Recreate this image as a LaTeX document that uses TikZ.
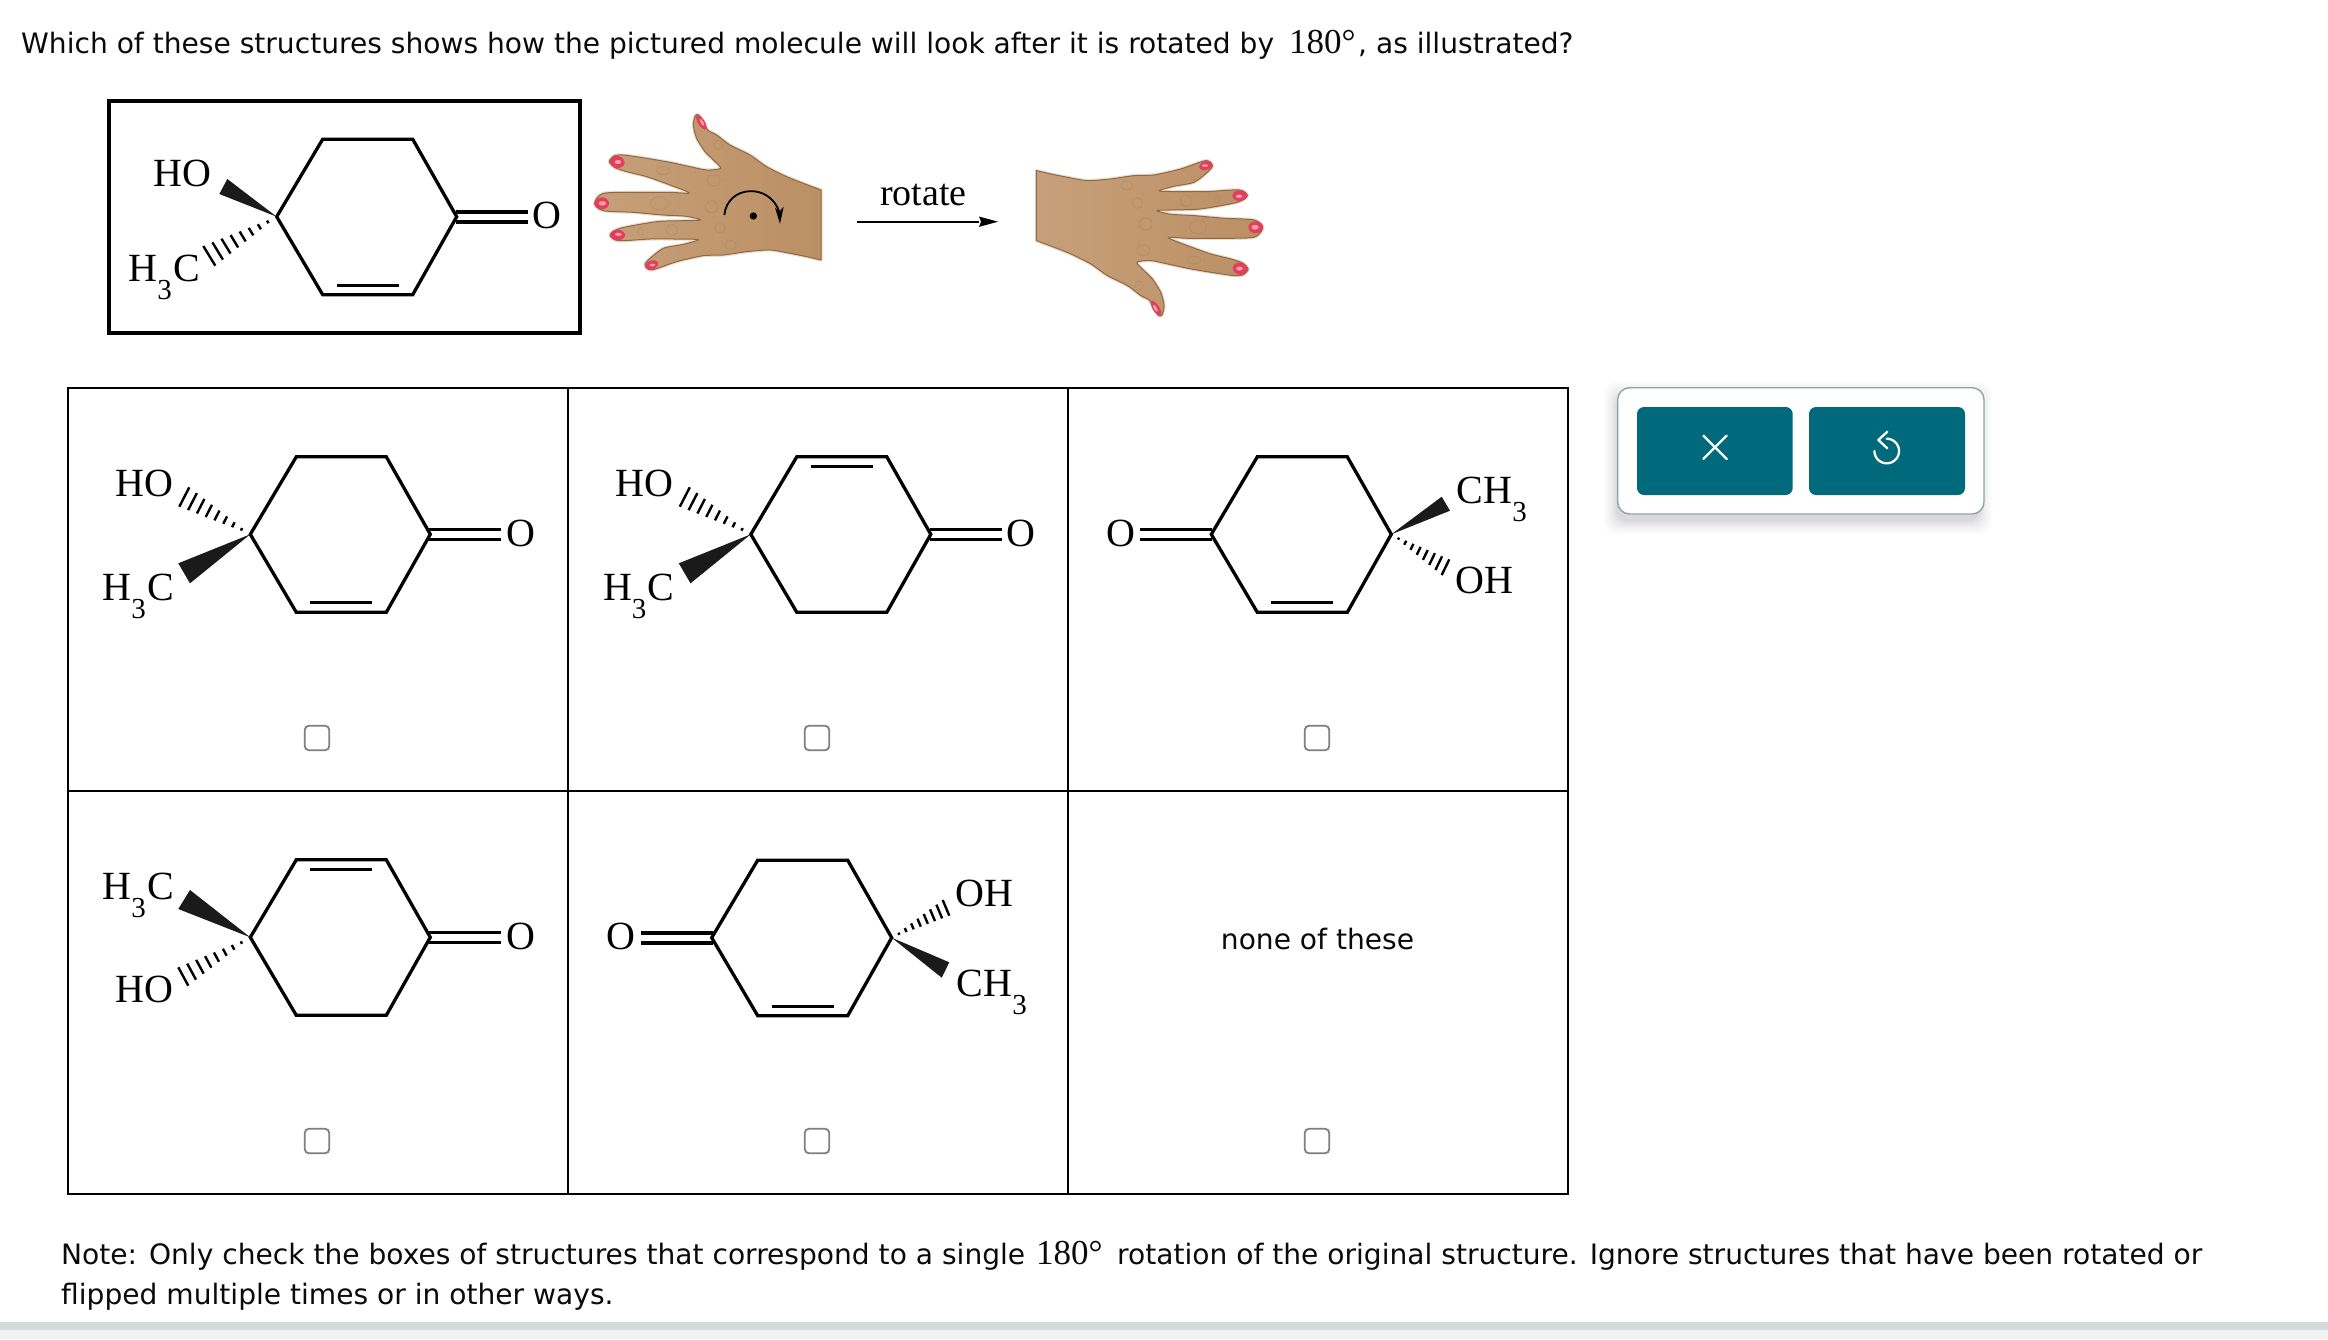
\documentclass[tikz,border=0pt]{standalone}
\usepackage{fontspec}
\usetikzlibrary{calc}
\newfontfamily\chemfont{Liberation Serif}
\newfontfamily\uifont{DejaVu Sans}
\definecolor{teal}{HTML}{00697C}
\definecolor{panelline}{HTML}{8AA4AD}
\definecolor{boxgray}{HTML}{7F7F7F}
\definecolor{wedgeblack}{HTML}{1A1A1A}
\definecolor{skinA}{HTML}{C6A07A}
\definecolor{skinB}{HTML}{BC8F64}
\definecolor{skinedge}{HTML}{8A6238}
\definecolor{nail}{HTML}{E33F5C}
\definecolor{uitext}{HTML}{0A0A0A}
\tikzset{
  bond/.style={line width=3.3pt,line join=miter,black},
  dblbond/.style={line width=3.6pt,black},
  hashline/.style={line width=2.4pt,black},
  wedgefill/.style={fill=wedgeblack,draw=none},
  chemlabel/.style={inner sep=0pt,anchor=base west,font=\chemfont\fontsize{40}{42}\selectfont,text=black},
  chemcentre/.style={inner sep=0pt,anchor=base,font=\chemfont\fontsize{40}{42}\selectfont,text=black},
  rotlabel/.style={inner sep=0pt,anchor=base west,font=\chemfont\fontsize{38}{40}\selectfont,text=black},
  uilabel/.style={inner sep=0pt,anchor=base west,font=\uifont\fontsize{28.1}{34}\selectfont,text=uitext},
  deglabel/.style={inner sep=0pt,anchor=base west,font=\chemfont\fontsize{35}{40}\selectfont,text=uitext},
  gridline/.style={line width=2pt,black},
  checkbox/.style={line width=1.8pt,draw=boxgray,rounded corners=4pt,fill=white},
  btn/.style={fill=teal,rounded corners=7pt,draw=none},
  glyph/.style={white,line width=2.3pt,line cap=round,line join=round},
  knuckle/.style={draw=skinedge,opacity=.16,line width=.9pt},
}
\newcommand{\subthree}{\raisebox{-18pt}{\fontsize{29}{30}\selectfont 3}}
\newcommand{\hthreec}{H\subthree\kern1.5pt C}
\newcommand{\chthree}{CH\subthree}
\newcommand{\molring}[4]{%
  \begin{scope}[shift={(#1,#2)}]
    \draw[bond] (-90,0)--(-44,-77.5)--(46,-77.5)--(90,0)--(46,78)--(-44,78)--cycle;
    \draw[bond] (-30,#3)--(32,#3);
    \draw[dblbond] ({#4*89},-5)--({#4*161},-5);
    \draw[dblbond] ({#4*89},5)--({#4*161},5);
  \end{scope}}
\newcommand{\wedgeb}[7]{%
  \begin{scope}[shift={(#1,#2)}]
    \fill[wedgefill] (#3,0)--(#4,#5)--(#6,#7)--cycle;
  \end{scope}}
\newcommand{\hashb}[7]{%
  \begin{scope}[shift={(#1,#2)}]
    \coordinate (hT) at (#3,0);
    \coordinate (hA) at (#4,#5);
    \coordinate (hB) at (#6,#7);
    \foreach \t in {0.133,0.257,0.381,0.505,0.628,0.752,0.876,1.0}
      \draw[hashline] ($(hT)!\t!(hA)$)--($(hT)!\t!(hB)$);
  \end{scope}}
\newcommand{\handpath}{plot[smooth,tension=.45] coordinates {
    (693,255)(640,235)(590,215)(530,185)(480,150)(420,120)(380,90)(354,76)(340,50)(326,30)(316,32)
    (310,60)(320,100)(345,140)(370,165)(392,190)(350,195)(300,185)(240,172)(170,160)(100,150)
    (72,153)(58,170)(75,188)(110,200)(170,215)(240,240)(298,264)(240,262)(150,262)(40,265)
    (14,295)(40,317)(130,322)(220,330)(290,334)(332,345)(285,347)(200,350)(90,370)(60,390)
    (85,407)(180,402)(250,402)(325,404)(280,418)(220,430)(178,462)(165,480)(185,495)(260,470)
    (340,452)(400,450)(470,440)(540,435)(600,445)(650,455)(693,465)} -- cycle}
\newcommand{\handshape}{%
  \path[draw=skinedge,opacity=.22,line width=3.2pt,line join=round] \handpath;
  \path[left color=skinA,right color=skinB,draw=skinedge!85!skinB,line width=1pt,line join=round] \handpath;
  \fill[nail,rotate around={-58:(334,52)}] (334,52) ellipse [x radius=25,y radius=10];
  \fill[nail,rotate around={-10:(82,171)}] (82,171) ellipse [x radius=22,y radius=18];
  \fill[nail] (35,295) ellipse [x radius=22,y radius=18];
  \fill[nail] (83,390) ellipse [x radius=22,y radius=16];
  \fill[nail,rotate around={20:(185,480)}] (185,480) ellipse [x radius=20,y radius=13];
  \fill[white,opacity=.5] (84,171) ellipse [x radius=10,y radius=6];
  \fill[white,opacity=.5] (37,295) ellipse [x radius=11,y radius=7];
  \fill[white,opacity=.5] (85,388) ellipse [x radius=10,y radius=5];
  \fill[white,opacity=.5,rotate around={-58:(336,52)}] (336,52) ellipse [x radius=12,y radius=4];
  \fill[white,opacity=.5] (187,480) ellipse [x radius=9,y radius=4];
  \draw[knuckle] (372,226) ellipse [x radius=20,y radius=16];
  \draw[knuckle] (365,305) ellipse [x radius=19,y radius=18];
  \draw[knuckle] (390,368) ellipse [x radius=16,y radius=16];
  \draw[knuckle] (422,420) ellipse [x radius=17,y radius=14];
  \draw[knuckle] (220,197) ellipse [x radius=20,y radius=12];
  \draw[knuckle] (208,295) ellipse [x radius=26,y radius=20];
  \draw[knuckle] (245,375) ellipse [x radius=16,y radius=18];
  \draw[knuckle] (152,380) ellipse [x radius=9,y radius=12];
  \draw[knuckle] (385,120) ellipse [x radius=12,y radius=14];
}
\begin{document}
\begin{tikzpicture}[x=1pt,y=-1pt]
\useasboundingbox (0,0) rectangle (2328,1339);
\fill[white] (0,0) rectangle (2328,1339);
\fill[color={rgb,255:red,210;green,218;blue,221}] (0,1322) rectangle (2328,1330);
\fill[color={rgb,255:red,239;green,243;blue,244}] (0,1330) rectangle (2328,1339);
% question
\node[uilabel] (q1) at (21,53.5) {Which of these structures shows how the pictured molecule will look after it is rotated by};
\node[deglabel] (q2) at (1289,53.5) {180°};
\node[uilabel] (q3) at (1358,53.5) {, as illustrated?};
% reference molecule
\draw[line width=4pt] (109.3,101) rectangle (580,332.7);
\molring{366.7}{216.7}{68.5}{1}
\wedgeb{366.7}{216.7}{-90}{-139.4}{-37.7}{-147.4}{-22.7}
\hashb{366.7}{216.7}{-90}{-163.4}{29.3}{-151.4}{49}
\node[chemlabel] (refho) at (153,186) {HO};
\node[chemlabel] (refch) at (128.3,281.7) {\hthreec};
\node[chemcentre] (refo) at (546.7,228.5) {O};
% hands
\begin{scope}[shift={(590,105)},scale=1/3]
  \handshape
  \draw[line width=1.8pt,black] (403,330) .. controls (412,240) and (540,232) .. (568,322);
  \fill[black] (570,356)--(555,308)--(568,320)--(581,305)--cycle;
  \fill[black] (490,333) circle [radius=11];
\end{scope}
\begin{scope}[rotate around={180:(928.7,215.3)}]
  \begin{scope}[shift={(590,105)},scale=1/3]
    \handshape
  \end{scope}
\end{scope}
\node[rotlabel] (rot) at (880,205.7) {rotate};
\coordinate (arrs) at (857,221.7);
\coordinate (arre) at (979,221.7);
\draw[line width=1.8pt] (arrs)--(arre);
\fill[black] (998,221.7)--(979,216.5)--(981,221.7)--(979,226.9)--cycle;
% grid
\draw[gridline] (68,388) rectangle (1568,1194);
\draw[gridline] (68,791)--(1568,791);
\draw[gridline] (568,388)--(568,1194);
\draw[gridline] (1068,388)--(1068,1194);
% A
\molring{340.3}{534.3}{68.5}{1}
\hashb{340.3}{534.3}{-90}{-151}{-47}{-161}{-27.6}
\wedgeb{340.3}{534.3}{-90}{-162}{29}{-150.3}{49}
\node[chemlabel] (aho) at (115,496) {HO};
\node[chemlabel] (ach) at (102.3,600) {\hthreec};
\node[chemcentre] (ao) at (520.7,546) {O};
% B
\molring{840.8}{534.3}{-67.5}{1}
\hashb{840.8}{534.3}{-90}{-151}{-47}{-161}{-27.6}
\wedgeb{840.8}{534.3}{-90}{-162}{29}{-150.3}{49}
\node[chemlabel] (bho) at (615.5,496) {HO};
\node[chemlabel] (bch) at (602.8,600) {\hthreec};
\node[chemcentre] (bo) at (1021.2,546) {O};
% C
\molring{1301.3}{534.3}{68.5}{-1}
\wedgeb{1301.3}{534.3}{90}{140.4}{-37.6}{148.7}{-23.6}
\hashb{1301.3}{534.3}{90}{148}{25}{140.4}{40.7}
\node[chemlabel] (cch) at (1456.7,503.3) {\chthree};
\node[chemlabel] (coh) at (1455.7,593.3) {OH};
\node[chemcentre] (co) at (1120.7,546) {O};
% second row, left
\molring{340.3}{937.3}{-67.5}{1}
\wedgeb{340.3}{937.3}{-90}{-150.3}{-47.3}{-162}{-28.3}
\hashb{340.3}{937.3}{-90}{-162}{30}{-152}{48.4}
\node[chemlabel] (ech) at (102.3,899) {\hthreec};
\node[chemlabel] (eho) at (115,1002.3) {HO};
\node[chemcentre] (eo) at (520.7,949) {O};
% second row, middle
\molring{801.7}{937.7}{68.5}{-1}
\wedgeb{801.7}{937.7}{90}{147.6}{24.6}{140}{40}
\hashb{801.7}{937.7}{90}{141}{-37.7}{147.6}{-22}
\node[chemlabel] (doh) at (955.7,906.7) {OH};
\node[chemlabel] (dch) at (956.7,996) {\chthree};
\node[chemcentre] (do) at (620.7,949) {O};
% none of these
\node[uilabel,anchor=base] (none) at (1317.5,949) {none of these};
% check boxes
\foreach \cx/\cy in {317/738,817/738,1317/738,317/1141,817/1141,1317/1141}
  \draw[checkbox] (\cx-12.2,\cy-12.2) rectangle (\cx+12.2,\cy+12.2);
% button panel
\foreach \s/\o in {14/.012,12/.014,10/.016,8/.02,6/.024,4/.028,2/.03}
  \fill[black,opacity=\o,rounded corners=12pt] (1617.7-\s,387.7+8-\s) rectangle (1984+\s-6,514+6+\s);
\draw[line width=1.4pt,draw=panelline,fill=white,rounded corners=12pt] (1617.7,387.7) rectangle (1984,514);
\fill[btn] (1637,407) rectangle (1792.7,495);
\fill[btn] (1809,407) rectangle (1965,495);
\draw[glyph] (1703.3,435.6)--(1726.7,459);
\draw[glyph] (1726.7,435.6)--(1703.3,459);
\draw[glyph] plot[smooth,domain=0:270,samples=40] ({1886.7+12.3*sin(\x)},{451-12.3*cos(\x)});
\draw[glyph] (1887.3,431.7)--(1878.3,440)--(1887.3,448.3);
% note
\node[uilabel] (n1) at (61,1264) {Note: Only check the boxes of structures that correspond to a single};
\node[deglabel] (n2) at (1036,1264) {180°};
\node[uilabel] (n3) at (1117,1264) {rotation of the original structure. Ignore structures that have been rotated or};
\node[uilabel] (n4) at (61,1304) {flipped multiple times or in other ways.};
\end{tikzpicture}
\end{document}
